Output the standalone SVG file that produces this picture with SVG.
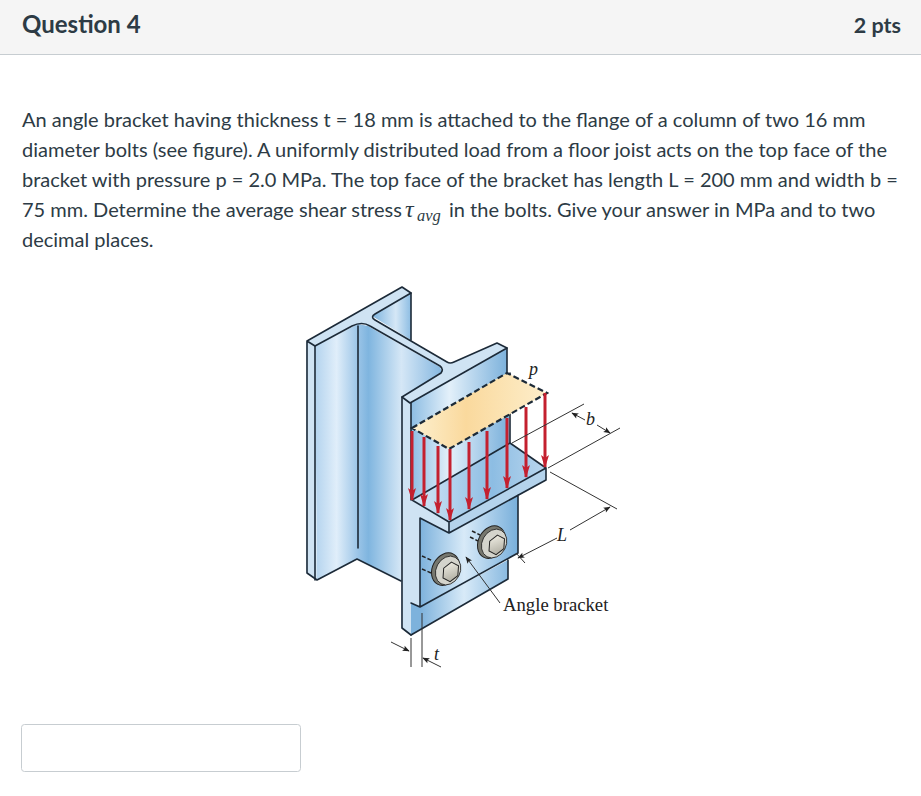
<svg xmlns="http://www.w3.org/2000/svg" width="921" height="796" viewBox="0 0 921 796">
<style>
.b{font-family:Lato,"Noto Sans",sans-serif;font-size:20px;fill:#2d3b45}
.h{font-family:Lato,"Noto Sans",sans-serif;font-size:24px;font-weight:700;fill:#2d3b45}
.s{stroke:#1c2a38;stroke-width:1.6;stroke-linejoin:round;stroke-linecap:round;fill:none}
.d{stroke:#333;stroke-width:1;fill:none}
.a{stroke:#c4202f;stroke-width:3;fill:none}
.l{font-family:"Liberation Serif",serif;fill:#222}
.i{font-style:italic}
.e{fill:#cfe3f3}
.w{fill:#77786f;stroke:#222}
.x{fill:#d4d4cc;stroke:#222;stroke-width:.8}
.t{stroke:#222;stroke-width:1.500;stroke-dasharray:4 2;fill:none}
</style>
<defs>
<linearGradient id="gc" gradientUnits="userSpaceOnUse" x1="315" x2="442" y1="0" y2="0"><stop offset="0" stop-color="#b3d3ee"/><stop offset=".17" stop-color="#e0eefa"/><stop offset=".34" stop-color="#9ac4e7"/><stop offset=".42" stop-color="#7fb5df"/><stop offset=".68" stop-color="#d5e7f6"/><stop offset="1" stop-color="#85b7e0"/></linearGradient>
<linearGradient id="gb" gradientUnits="userSpaceOnUse" x1="373" x2="411" y1="0" y2="0"><stop offset="0" stop-color="#7fb5df"/><stop offset=".6" stop-color="#d5e7f6"/><stop offset="1" stop-color="#8dbde3"/></linearGradient>
<linearGradient id="gf" gradientUnits="userSpaceOnUse" x1="411" x2="507" y1="0" y2="0"><stop offset="0" stop-color="#8dbde3"/><stop offset=".4" stop-color="#e3f0fa"/><stop offset="1" stop-color="#7db2dc"/></linearGradient>
<linearGradient id="gt" gradientUnits="userSpaceOnUse" x1="412" x2="546" y1="0" y2="0"><stop offset="0" stop-color="#d5e7f6"/><stop offset=".6" stop-color="#8dbde3"/><stop offset="1" stop-color="#b9d6ee"/></linearGradient>
<linearGradient id="gp" gradientUnits="userSpaceOnUse" x1="420" x2="518" y1="0" y2="0"><stop offset="0" stop-color="#7db2dc"/><stop offset=".45" stop-color="#d8eaf8"/><stop offset="1" stop-color="#78afdb"/></linearGradient>
<linearGradient id="y" x1="0" x2="1" y1="0" y2="0"><stop offset="0" stop-color="#fdf0cf"/><stop offset=".4" stop-color="#fad99d"/><stop offset="1" stop-color="#fdeecb"/></linearGradient>
<linearGradient id="n" x1="0" x2="1" y1="0" y2="1"><stop offset="0" stop-color="#f4f2e8"/><stop offset="1" stop-color="#a8a69a"/></linearGradient>
<marker id="r" viewBox="0 0 13 9" refX="12" refY="4.500" markerWidth="13" markerHeight="9" orient="auto" markerUnits="userSpaceOnUse"><path d="M0 .5L13 4.500L0 8.500L3 4.500Z" fill="#c4202f"/></marker>
<marker id="k" viewBox="0 0 10 10" refX="9" refY="5" markerWidth="9" markerHeight="7" orient="auto" markerUnits="userSpaceOnUse"><path d="M0 1L10 5L0 9L2 5Z" fill="#222"/></marker>
</defs>
<rect width="921" height="796" fill="#fff"/>
<g id="header">
<rect width="921" height="54" fill="#f5f5f5"/>
<path d="M0 54.500H921" stroke="#c7cdd1"/>
<text class="h" x="22" y="33">Question 4</text>
<text class="h" x="901" y="33" text-anchor="end" style="font-size:21.500px">2 pts</text>
</g>
<g id="body">
<text class="b" x="22" y="127">An angle bracket having thickness t = 18 mm is attached to the flange of a column of two 16 mm</text>
<text class="b" x="22" y="157">diameter bolts (see figure). A uniformly distributed load from a floor joist acts on the top face of the</text>
<text class="b" x="22" y="187">bracket with pressure p = 2.0 MPa. The top face of the bracket has length L = 200 mm and width b =</text>
<text class="b" x="22" y="217">75 mm. Determine the average shear stress</text>
<text x="405" y="217" font-family="Liberation Serif,serif" font-style="italic" font-size="24" fill="#2d3b45">τ</text>
<text x="417" y="221" font-family="Liberation Serif,serif" font-style="italic" font-size="16.500" fill="#2d3b45">avg</text>
<text class="b" x="449" y="217">in the bolts. Give your answer in MPa and to two</text>
<text class="b" x="22" y="247">decimal places.</text>
</g>
<g id="column">
<path d="M372 316L411 293V340Z" fill="url(#gb)"/>
<path d="M315 346L358 324L368 326L440 367L442 372L402 397V581L357 559L317 580Z" fill="url(#gc)"/>
<path d="M307 341L402 287L411 293L375 314Q370 317 375 320L447 362Q450 364 454 362L497 343L507 348L410 403L402 397L441 373Q444 369 440 366L370 326Q362 321 352 326L315 346Z" class="e"/>
<path d="M306 341L315 346L317 580L306 573Z" class="e"/>
<path d="M410 403L507 348V373L510 443L412 500V505L411 520Z" fill="url(#gf)"/>
<path d="M402 397L411 403V635L401 628Z" class="e"/>
<path class="s" d="M307 341L402 287L411 293L375 314Q370 317 375 320L447 362Q450 364 454 362L497 343L507 348L410 403L402 397L441 373Q444 369 440 366L370 326Q362 321 352 326L315 346L307 341V573L317 580L357 559L401 581"/>
<path class="s" d="M411 293V340M358 326V548M315 346V580M402 397V628L411 635M411 403V500M507 348V373"/>
</g>
<g id="bracket">
<path d="M412 500L510 443L546 468L449 522Z" fill="url(#gt)"/>
<path d="M449 522L546 468V480L449 533Z" fill="#b4d3ec"/>
<path d="M411 500L449 522V533L420 518V607L411 603Z" class="e"/>
<path d="M420 518L449 533L518 495V553L420 607Z" fill="url(#gp)"/>
<path d="M411 603L420 607L508 560V579L411 635Z" fill="url(#gp)"/>
<path class="s" d="M412 500L510 443V373M510 443L546 468V480L449 533V522L546 468M412 500L449 522M449 533L420 518V607L411 603M518 495V553L420 607M508 560V579L411 635"/>
<path d="M412 428L507 373L547 393L449 449Z" fill="url(#y)"/>
<path d="M412 428L507 373L547 393L449 449Z" fill="none" stroke="#1c2a38" stroke-width="2.200" stroke-dasharray="6 3"/>
</g>
<g id="bolts">
<path class="t" d="M422 556L433 561M422 569L431 573M472 531L480 535M470 537L478 541"/>
<g id="bolt1" transform="translate(449 571) rotate(28)">
<ellipse cx="-4" cy="0" rx="13" ry="17" class="w"/>
<ellipse cx="-1" cy="0" rx="12" ry="15" class="x"/>
<path d="M-2 -9L6 -9L10 0L6 9L-2 9L-6 0Z" fill="url(#n)" stroke="#222"/>
</g>
<g id="bolt2" transform="translate(495 544) rotate(28)">
<ellipse cx="-4" cy="0" rx="13" ry="17" class="w"/>
<ellipse cx="-1" cy="0" rx="12" ry="15" class="x"/>
<path d="M-2 -9L6 -9L10 0L6 9L-2 9L-6 0Z" fill="url(#n)" stroke="#222"/>
</g>
</g>
<g id="connectors">
<g class="a">
<path d="M412 431V500" marker-end="url(#r)"/>
<path d="M424 437V506" marker-end="url(#r)"/>
<path d="M438 446V513" marker-end="url(#r)"/>
<path d="M450 449V520" marker-end="url(#r)"/>
<path d="M469 442V509" marker-end="url(#r)"/>
<path d="M487 431V499" marker-end="url(#r)"/>
<path d="M507 418V488" marker-end="url(#r)"/>
<path d="M526 407V477" marker-end="url(#r)"/>
<path d="M545 393V467" marker-end="url(#r)"/>
</g>
<path class="d" d="M512 443L584 404M548 468L620 428M550 472L617 509"/>
<path class="d" d="M585 420L572 413" marker-end="url(#k)"/>
<path class="d" d="M597 425L610 433" marker-end="url(#k)"/>
<path class="d" d="M570 530L610 507" marker-end="url(#k)"/>
<path class="d" d="M557 538L518 558" marker-end="url(#k)"/>
<path class="d" d="M516 553L525 563"/>
<path class="d" d="M500 603L466 557" marker-end="url(#k)"/>
<path class="d" d="M411 638V667M422 613V667"/>
<path class="d" d="M391 642L409 651" marker-end="url(#k)"/>
<path class="d" d="M441 667L423 658" marker-end="url(#k)"/>
</g>
<g id="labels">
<text class="l i" x="529" y="375" font-size="18">p</text>
<text class="l i" x="586" y="425" font-size="18">b</text>
<text class="l i" x="557" y="541" font-size="18">L</text>
<text class="l i" x="434" y="660" font-size="18">t</text>
<text class="l" x="503" y="611" font-size="18.700">Angle bracket</text>
</g>
<g id="answer">
<rect x="21.500" y="724.500" width="279" height="47" rx="3" fill="#fff" stroke="#c7cdd1"/>
</g>
</svg>
